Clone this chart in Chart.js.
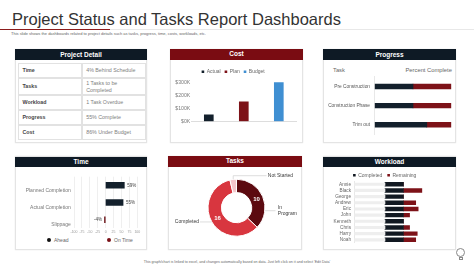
<!DOCTYPE html>
<html><head><meta charset="utf-8">
<script src="https://cdn.jsdelivr.net/npm/chart.js@4.4.1/dist/chart.umd.min.js"></script>
<style>
html,body{margin:0;padding:0;background:#fff}
body{position:relative;width:474px;height:266px;overflow:hidden;font-family:"Liberation Sans",Arial,sans-serif}
.a{position:absolute;white-space:nowrap}
.panel{position:absolute;box-sizing:border-box;border:1px solid #e4e4e4;background:#fff;box-shadow:0 0 1.5px rgba(0,0,0,0.10)}
.hdr{position:absolute;box-sizing:border-box;color:#fff;font-weight:bold;font-size:6.5px;text-align:center}
.navy{background:#0e1a25}
.red{background:#7a0c12}
canvas{position:absolute}
.cell{position:absolute;box-sizing:border-box;border:0.5px solid #e2e2e2;font-size:5.3px;display:flex;align-items:center;padding-left:3.5px;line-height:7px;white-space:normal}
</style></head><body>
<div class="a" style="left:12px;top:11px;font-size:16.5px;line-height:16.5px;color:#333">Project Status and Tasks Report Dashboards</div>
<div class="a" style="left:0;top:29px;width:110px;height:1px;background:#8b1c1c"></div>
<div class="a" style="left:110px;top:29.3px;width:364px;height:0.6px;background:#e8e8e8"></div>
<div class="a" style="left:11px;top:32px;font-size:4px;line-height:4px;color:#666">This slide shows the dashboards related to project details such as tasks, progress, time, costs, workloads, etc.</div>

<div class="panel" style="left:15px;top:49px;width:132px;height:94px"></div>
<div class="hdr navy" style="left:15px;top:49px;width:132px;height:11px;line-height:11px">Project Detail</div>
<div class="panel" style="left:170px;top:49px;width:133px;height:94px"></div>
<div class="hdr red" style="left:170px;top:49px;width:133px;height:10.5px;line-height:10.5px">Cost</div>
<div class="panel" style="left:323px;top:49px;width:133px;height:94px"></div>
<div class="hdr navy" style="left:323px;top:49px;width:133px;height:11px;line-height:11px">Progress</div>

<div class="panel" style="left:15px;top:156px;width:132px;height:94px"></div>
<div class="hdr navy" style="left:15px;top:156.5px;width:132px;height:10.5px;line-height:10.5px">Time</div>
<div class="panel" style="left:168px;top:156px;width:134px;height:94px"></div>
<div class="hdr red" style="left:168px;top:156px;width:134px;height:10.5px;line-height:10.5px">Tasks</div>
<div class="panel" style="left:323px;top:156px;width:133px;height:94px"></div>
<div class="hdr navy" style="left:323px;top:156.5px;width:133px;height:10.5px;line-height:10.5px">Workload</div>

<div id="table"></div>
<div class="a" style="left:333px;top:67px;font-size:5.8px;line-height:6px;color:#666">Task</div>
<div class="a" style="left:405.5px;top:67px;font-size:5.8px;line-height:6px;color:#666">Percent Complete</div>
<div id="timeLegend"></div>

<canvas id="cost" width="132" height="82" style="left:170px;top:60px"></canvas>
<canvas id="progress" width="133" height="82" style="left:323px;top:60px"></canvas>
<canvas id="time" width="132" height="82" style="left:15px;top:167px"></canvas>
<canvas id="tasks" width="134" height="83" style="left:168px;top:166px"></canvas>
<canvas id="workload" width="133" height="82" style="left:323px;top:167px"></canvas>

<div class="a" style="left:0;width:474px;top:259.8px;font-size:3.6px;line-height:4px;color:#666;text-align:center">This graph/chart is linked to excel, and changes automatically based on data. Just left click on it and select 'Edit Data'</div>
<div class="a" style="left:456px;top:248px;width:9px;height:9px;border:0.8px solid #888;border-radius:50%;box-sizing:border-box"></div>
<div class="a" style="left:458.5px;top:257px;width:4px;height:3px;border:0.8px solid #888;box-sizing:border-box"></div>

<script>
// ---------- DATA ----------
const detailLabels = ['Time','Tasks','Workload','Progress','Cost'];
const detailValues = ['4% Behind Schedule','1 Tasks to be<br>Completed','1 Task Overdue','55% Complete','86% Under Budget'];

const costCategories = ['Actual','Plan','Budget'];
const costValues = [50000,150000,300000];
const costTicks = [0,100000,200000,300000];

const progressTasks = ['Pre Construction','Construction Phase','Trim out'];
const progressComplete = [50,50,68];
const progressRemaining = [50,50,32];

const timeCategories = ['Planned Completion','Actual Completion','Slippage'];
const timeAhead = [59,55,null];
const timeOnTime = [null,null,-4];
const timeTicks = [-100,-75,-50,-25,0,25,50,75,100];

const taskStatus = ['In Program','Completed','Not Started'];
const taskCounts = [10,16,1];

const workloadNames = ['Annie','Black','George','Andrew','Eric','John','Kenneth','Chris','Harry','Noah'];
const workloadStart = [10,10,10,10,10,10,10,10,10,10];
const workloadCompleted = [6,6,6,6,6,6,6,6,6,6];
const workloadRemaining = [0,6,0,4,4.8,2,0,2,4.5,4];

// ---------- STYLE ----------
const FONT = '"Liberation Sans", Arial, sans-serif';
const NAVY = '#13202c', DRED = '#7d1218', BLUE = '#3f8fd2';
Chart.defaults.font.family = FONT;
Chart.defaults.color = '#666';
Chart.defaults.animation = false;
Chart.defaults.responsive = false;
Chart.defaults.plugins.tooltip.enabled = false;

// table
(function(){
  const rows = [63,78,95,110,125,140];
  let h = '';
  detailLabels.forEach((l,i)=>{
    const t = rows[i], ht = rows[i+1]-rows[i];
    h += `<div class="cell" style="left:18px;top:${t}px;width:63.7px;height:${ht}px;font-weight:bold;color:#444">${l}</div>`;
    h += `<div class="cell" style="left:81.7px;top:${t}px;width:64.3px;height:${ht}px;color:#808080">${detailValues[i]}</div>`;
  });
  document.getElementById('table').innerHTML = h;
})();

const legendFix = {
  id:'legendFix',
  beforeLayout(chart, args, opts){
    const lg = chart.legend;
    if (lg && opts && opts.height != null && !lg._fixed){
      const f = lg.fit;
      lg.fit = function(){ f.call(this); this.height = opts.height; };
      lg._fixed = true;
    }
  }
};

// Cost
const costColors = [NAVY, DRED, BLUE];
new Chart(document.getElementById('cost'), {
  type:'bar',
  data:{ labels: costCategories,
    datasets: costCategories.map((c,i)=>({ label:c, data: costCategories.map((_,j)=> j===i ? costValues[i] : null),
      backgroundColor: costColors[i], barThickness:9, skipNull:true })) },
  options:{
    layout:{padding:{left:0,right:5.7,top:5.2,bottom:12.7}},
    plugins:{ legend:{ position:'top', labels:{ boxWidth:2.6, boxHeight:2.6, padding:4, font:{size:5}, color:'#666' } },
      legendFix:{height:17.1} },
    scales:{
      x:{ grid:{display:false}, ticks:{display:false}, border:{color:'#dddddd'} },
      y:{ min:0, max:300000,
        afterBuildTicks: s => { s.ticks = costTicks.map(v=>({value:v})); },
        ticks:{ callback: v => '$' + (v/1000) + 'K', font:{size:5.2}, color:'#7a7a7a', padding:1 },
        grid:{display:false, drawTicks:false}, border:{display:false},
        afterFit: s => { s.width = 21.3; } }
    }
  },
  plugins:[legendFix]
});

// Progress
new Chart(document.getElementById('progress'), {
  type:'bar',
  data:{ labels: progressTasks, datasets:[
    { label:'Complete', data: progressComplete, backgroundColor: NAVY, barThickness:4.8 },
    { label:'Remaining', data: progressRemaining, backgroundColor: DRED, barThickness:4.8 } ] },
  options:{
    indexAxis:'y',
    layout:{padding:{left:0,right:4.7,top:16.8,bottom:5.8}},
    plugins:{ legend:{display:false} },
    scales:{
      x:{ stacked:true, min:0, max:100, display:false },
      y:{ stacked:true, ticks:{ font:{size:4.8}, color:'#555', padding:4.7 },
        grid:{display:false, drawTicks:false}, border:{color:'#e8e8e8'},
        afterFit: s => { s.width = 51.7; } }
    }
  }
});

// Time
const timeLabels = {
  id:'timeLabels',
  afterDatasetsDraw(chart){
    const ctx = chart.ctx; ctx.save();
    ctx.font = '4.5px ' + FONT; ctx.fillStyle = '#444'; ctx.textBaseline = 'middle';
    chart.data.datasets.forEach((ds,di)=>{
      chart.getDatasetMeta(di).data.forEach((bar,i)=>{
        const v = ds.data[i]; if (v == null) return;
        const txt = v + '%';
        if (v >= 0){ ctx.textAlign='left'; ctx.fillText(txt, bar.x + 3, bar.y); }
        else { ctx.textAlign='right'; ctx.fillText(txt, bar.x - 2.5, bar.y); }
      });
    });
    ctx.restore();
  }
};
const timeChart = new Chart(document.getElementById('time'), {
  type:'bar',
  data:{ labels: timeCategories, datasets:[
    { label:'Ahead', data: timeAhead, backgroundColor: NAVY, barThickness:5.7, grouped:false, legendColor:'#111' },
    { label:'On Time', data: timeOnTime, backgroundColor: '#7a2a2e', barThickness:5.7, grouped:false, legendColor:'#7a1017' } ] },
  options:{
    indexAxis:'y',
    layout:{padding:{left:0,right:9.7,top:9.7,bottom:14.7}},
    plugins:{ legend:{display:false} },
    scales:{
      x:{ min:-100, max:100,
        afterBuildTicks: s => { s.ticks = timeTicks.map(v=>({value:v})); },
        ticks:{ font:{size:3.5}, color:'#999', padding:1.5, maxRotation:0, autoSkip:false },
        grid:{ color:'#e8e8e8', drawTicks:false, lineWidth:0.7 }, border:{display:false},
        afterFit: s => { s.height = 6; } },
      y:{ ticks:{ font:{size:5}, color:'#777', padding:3.3, labelOffset:5 },
        grid:{display:false, drawTicks:false}, border:{display:false},
        afterFit: s => { s.width = 59; } }
    }
  },
  plugins:[timeLabels]
});
(function(){
  let h = '';
  timeChart.data.datasets.forEach((ds,i)=>{
    const x = 47 + 60*i;
    h += `<div class="a" style="left:${x}px;top:238.3px;width:4px;height:4px;border-radius:50%;background:${ds.legendColor}"></div>`;
    h += `<div class="a" style="left:${x+7}px;top:237.5px;font-size:5px;line-height:5.6px;color:#666">${ds.label}</div>`;
  });
  document.getElementById('timeLegend').innerHTML = h;
})();

// Tasks
const donutLabels = {
  id:'donutLabels',
  afterDatasetsDraw(chart){
    const ctx = chart.ctx, meta = chart.getDatasetMeta(0), ds = chart.data.datasets[0];
    ctx.save();
    meta.data.forEach((arc,i)=>{
      const p = arc.getProps(['x','y','startAngle','endAngle','outerRadius','innerRadius'], true);
      const mid = (p.startAngle + p.endAngle)/2;
      const R = p.outerRadius;
      const frac = (p.endAngle - p.startAngle)/(2*Math.PI);
      const label = chart.data.labels[i];
      if (frac > 0.15){
        const c = arc.getCenterPoint();
        ctx.font = 'bold 6px ' + FONT; ctx.fillStyle = '#fff';
        ctx.textAlign = 'center'; ctx.textBaseline = 'middle';
        ctx.fillText(String(ds.data[i]), c.x, c.y);
      }
      const ex = p.x + R*Math.cos(mid), ey = p.y + R*Math.sin(mid);
      ctx.strokeStyle = '#cfcfcf'; ctx.lineWidth = 0.7;
      ctx.font = '5px ' + FONT; ctx.fillStyle = '#3a3a3a'; ctx.textBaseline = 'middle';
      ctx.beginPath();
      if (Math.sin(mid) < -0.9){
        const ly = p.y - R - 3.5;
        ctx.moveTo(ex, ey); ctx.lineTo(ex, ly); ctx.lineTo(p.x + R + 1.5, ly); ctx.stroke();
        ctx.textAlign = 'left'; ctx.fillText(label, p.x + R + 2.8, ly);
      } else if (Math.cos(mid) > 0){
        const ly = p.y + 3;
        const sx = p.x + Math.sqrt(R*R - 9);
        ctx.moveTo(sx, ly); ctx.lineTo(p.x + R + 10.5, ly); ctx.stroke();
        ctx.textAlign = 'left';
        const words = label.split(' ');
        words.forEach((w,k)=> ctx.fillText(w, p.x + R + 12.8, ly - 2.9 + k*5.4));
      } else {
        ctx.moveTo(ex, ey); ctx.lineTo(p.x - R - 8, ey); ctx.stroke();
        ctx.textAlign = 'right'; ctx.fillText(label, p.x - R - 9, ey);
      }
    });
    ctx.restore();
  }
};
new Chart(document.getElementById('tasks'), {
  type:'doughnut',
  data:{ labels: taskStatus, datasets:[{ data: taskCounts,
    backgroundColor:['#5c0a10','#d8363f','#f4c7cc'], borderColor:'#fff', borderWidth:1 }] },
  options:{
    cutout:'53%',
    layout:{padding:{left:39.5,right:36.5,top:12.7,bottom:12.3}},
    plugins:{ legend:{display:false} }
  },
  plugins:[donutLabels]
});

// Workload
new Chart(document.getElementById('workload'), {
  type:'bar',
  data:{ labels: workloadNames, datasets:[
    { label:'Start', data: workloadStart, backgroundColor:'#eeeeee', barThickness:2.5 },
    { label:'Completed', data: workloadCompleted, backgroundColor:'#111821', barThickness:3.8 },
    { label:'Remaining', data: workloadRemaining, backgroundColor: DRED, barThickness:3.8 } ] },
  options:{
    indexAxis:'y',
    layout:{padding:{left:0,right:9.6,top:0.8,bottom:5.2}},
    plugins:{ legend:{ position:'top', labels:{ boxWidth:2.6, boxHeight:2.6, padding:5, font:{size:5}, color:'#666',
        filter: item => item.datasetIndex > 0 } },
      legendFix:{height:13.4} },
    scales:{
      x:{ stacked:true, min:0, max:30, display:false },
      y:{ stacked:true, ticks:{ font:{size:4.7}, color:'#666', padding:3.3, autoSkip:false },
        grid:{display:false, drawTicks:false}, border:{color:'#e8e8e8'},
        afterFit: s => { s.width = 31.3; } }
    }
  },
  plugins:[legendFix]
});
</script>
</body></html>
